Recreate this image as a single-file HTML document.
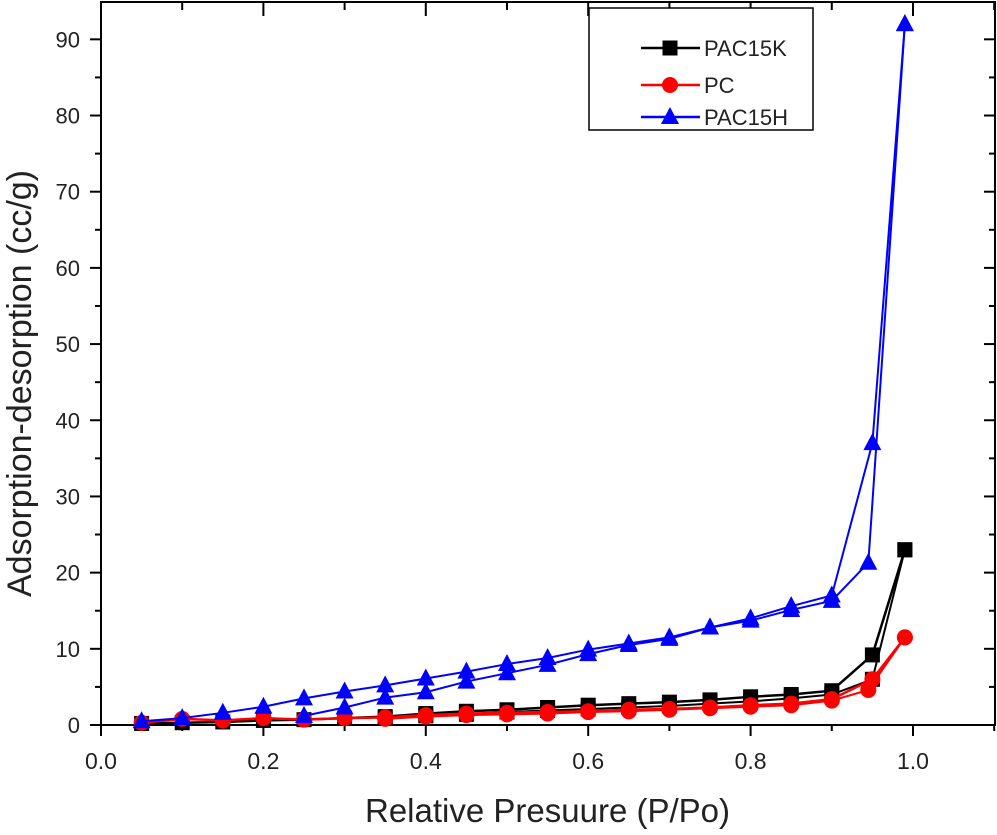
<!DOCTYPE html>
<html><head><meta charset="utf-8"><style>
body{margin:0;background:#fff}
svg text{font-family:"Liberation Sans",Arial,sans-serif}
</style></head><body>
<svg id="chart" width="997" height="830" xmlns="http://www.w3.org/2000/svg"></svg>
<script>
const xs = [0.05,0.1,0.15,0.2,0.25,0.3,0.35,0.4,0.45,0.5,0.55,0.6,0.65,0.7,0.75,0.8,0.85,0.9,0.95,0.99];
const kAds = [0.2,0.3,0.4,0.6,0.7,0.9,1.1,1.5,1.8,2.0,2.3,2.6,2.8,3.0,3.3,3.7,4.0,4.5,9.2,23.0];
const kDesX = [0.35,0.4,0.45,0.5,0.55,0.6,0.65,0.7,0.75,0.8,0.85,0.9,0.95,0.99];
const kDes = [0.9,1.2,1.4,1.7,1.9,2.1,2.3,2.5,2.8,3.1,3.5,4.0,6.0,23.0];
const pcAds = [0.3,0.8,0.6,0.9,0.7,0.9,1.0,1.3,1.5,1.6,1.7,1.8,2.0,2.1,2.3,2.6,2.8,3.4,6.0,11.5];
const pcDesX = [0.35,0.4,0.45,0.5,0.55,0.6,0.65,0.7,0.75,0.8,0.85,0.9,0.945,0.99];
const pcDes = [0.8,1.1,1.3,1.4,1.5,1.7,1.8,2.0,2.2,2.4,2.6,3.2,4.6,11.5];
const hAds = [0.5,0.9,1.6,2.4,3.5,4.4,5.2,6.1,7.0,8.0,8.8,9.9,10.7,11.5,12.8,14.0,15.6,17.0,37.0,92.0];
const hDesX = [0.25,0.3,0.35,0.4,0.45,0.5,0.55,0.6,0.65,0.7,0.75,0.8,0.85,0.9,0.945,0.99];
const hDes = [1.2,2.3,3.6,4.3,5.7,6.8,7.9,9.3,10.5,11.3,12.8,13.7,15.1,16.3,21.3,92.0];
const xTicks = [0,0.2,0.4,0.6,0.8,1.0];
const yTicks = [0,10,20,30,40,50,60,70,80,90];

const L=101,R=995,T=2,B=725,XMAX=1.101,YMAX=94.9;
const sx=v=>L+v/XMAX*(R-L), sy=v=>B-v/YMAX*(B-T);
const svg=document.getElementById('chart');
const NS='http://www.w3.org/2000/svg';
function mk(tag,at,txt){const e=document.createElementNS(NS,tag);for(const k in at)e.setAttribute(k,at[k]);if(txt!=null)e.textContent=txt;svg.appendChild(e);return e;}

let e=mk('rect',{x:L,y:T,width:R-L,height:B-T,fill:'none',stroke:'#000','stroke-width':2});


for(let v=0;v<=1.1001;v+=0.1){const x=sx(v),maj=Math.abs(Math.round(v*10)%2)===0;
 mk('line',{x1:x,y1:B,x2:x,y2:B+(maj?11:6),stroke:'#000','stroke-width':2});
 mk('line',{x1:x,y1:T,x2:x,y2:T+(maj?14:8),stroke:'#000','stroke-width':2});}
xTicks.forEach(v=>{e=mk('text',{x:sx(v),y:769,'font-size':23,'text-anchor':'middle',fill:'#222'},v.toFixed(1));
 
 });
for(let v=0;v<=90;v+=5){const y=sy(v),maj=v%10===0;
 mk('line',{x1:L,y1:y,x2:L-(maj?11:6),y2:y,stroke:'#000','stroke-width':2});
 mk('line',{x1:R,y1:y,x2:R-(maj?11:6),y2:y,stroke:'#000','stroke-width':2});}
yTicks.forEach(v=>{e=mk('text',{x:L-21,y:sy(v)+8,'font-size':22,'text-anchor':'end',fill:'#222'},String(v));
 
 });
e=mk('text',{x:365,y:822,'font-size':33,textLength:365,lengthAdjust:'spacingAndGlyphs',fill:'#222'},'Relative Presuure (P/Po)');


e=mk('text',{x:0,y:0,'font-size':34,textLength:427,lengthAdjust:'spacingAndGlyphs',fill:'#222',transform:'translate(31 597) rotate(-90)'},'Adsorption-desorption (cc/g)');



function marker(x,y,shape,color){let m;
 if(shape==='sq')m=mk('rect',{x:x-7.5,y:y-7.5,width:15,height:15,fill:color});
 else if(shape==='ci')m=mk('circle',{cx:x,cy:y,r:8,fill:color});
 else m=mk('polygon',{points:`${x},${y-10} ${x-9},${y+7} ${x+9},${y+7}`,fill:color});
 return m;}
function series(X,Y,color,shape,name,w){
 const p=mk('polyline',{points:X.map((v,i)=>sx(v)+','+sy(Y[i])).join(' '),fill:'none',stroke:color,'stroke-width':w});
 
 
 X.forEach((v,i)=>{const m=marker(sx(v),sy(Y[i]),shape,color);
  
  });}
series(xs,kAds,'#000','sq','pac15k-adsorption',2.5);
series(kDesX,kDes,'#000','sq','pac15k-desorption',2);
series(xs,pcAds,'#f00','ci','pc-adsorption',2.5);
series(pcDesX,pcDes,'#f00','ci','pc-desorption',2);
series(xs,hAds,'#00f','tr','pac15h-adsorption',2);
series(hDesX,hDes,'#00f','tr','pac15h-desorption',2);

e=mk('rect',{x:589,y:8,width:224,height:122,fill:'#fff',stroke:'#000','stroke-width':1.5});


[['PAC15K','#000','sq',48],['PC','#f00','ci',85],['PAC15H','#00f','tr',117]].forEach(([t,c,s,y])=>{
 mk('line',{x1:641,y1:y,x2:700,y2:y,stroke:c,'stroke-width':2.5});
 marker(670,y,s,c);
 e=mk('text',{x:704,y:y+8,'font-size':22,fill:'#222'},t);
 
 });
</script>
</body></html>
